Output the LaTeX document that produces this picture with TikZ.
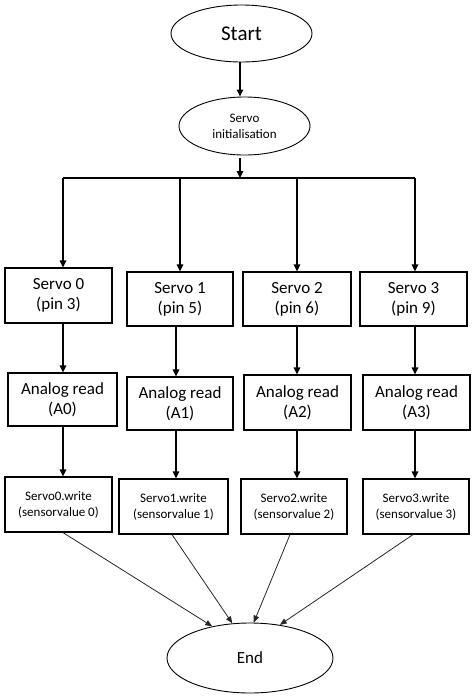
\documentclass[tikz,border=0pt]{standalone}
\usepackage{fontspec}
\setmainfont{Carlito}
\usetikzlibrary{shapes.geometric,arrows.meta,calc}
\begin{document}
\begin{tikzpicture}[x=1pt,y=-1pt,
  box/.style={draw=black,line width=1.2pt,rectangle,inner sep=0pt,align=center,text=black},
  oval/.style={draw=black,line width=0.9pt,ellipse,inner sep=0pt,align=center,text=black},
  arr/.style={draw=black,line width=1.2pt,-{Triangle[length=7pt,width=6.5pt]}},
  thinarr/.style={draw=black!85,line width=0.8pt,-{Triangle[length=7pt,width=5.5pt]}},
  big/.style={font=\fontsize{17}{20}\selectfont},
  small/.style={font=\fontsize{13}{16}\selectfont}]
\useasboundingbox (0,0) rectangle (474,697);
% ellipses
\node[oval,minimum width=141pt,minimum height=57pt,font=\fontsize{21}{24}\selectfont] (start) at (241.5,33.5) {Start};
\node[oval,minimum width=131pt,minimum height=58pt,font=\fontsize{13}{16}\selectfont] (init) at (244.5,126) {Servo\\initialisation};
\node[oval,minimum width=166pt,minimum height=70pt,big] (end) at (250,658) {End};
% servo boxes
\node[box,big,minimum width=107pt,minimum height=55pt] (s0) at (58.5,295.5) {Servo 0\\(pin 3)};
\node[box,big,minimum width=106pt,minimum height=54pt] (s1) at (180,299) {Servo 1\\(pin 5)};
\node[box,big,minimum width=108pt,minimum height=54pt] (s2) at (297,299) {Servo 2\\(pin 6)};
\node[box,big,minimum width=107pt,minimum height=54pt] (s3) at (413.5,299) {Servo 3\\(pin 9)};
% analog read boxes
\node[box,big,minimum width=109pt,minimum height=53pt] (a0) at (62.5,399.5) {Analog read\\(A0)};
\node[box,big,minimum width=106pt,minimum height=53pt] (a1) at (180,403.5) {Analog read\\(A1)};
\node[box,big,minimum width=107pt,minimum height=55pt] (a2) at (297.5,402.5) {Analog read\\(A2)};
\node[box,big,minimum width=107pt,minimum height=55pt] (a3) at (416.5,402.5) {Analog read\\(A3)};
% write boxes
\node[box,small,minimum width=107pt,minimum height=55pt] (w0) at (58.5,504.5) {Servo0.write\\(sensorvalue 0)};
\node[box,small,minimum width=109pt,minimum height=55pt] (w1) at (173.5,506.5) {Servo1.write\\(sensorvalue 1)};
\node[box,small,minimum width=106pt,minimum height=55pt] (w2) at (294,506.5) {Servo2.write\\(sensorvalue 2)};
\node[box,small,minimum width=106pt,minimum height=55pt] (w3) at (416,506.5) {Servo3.write\\(sensorvalue 3)};
% bus coordinates
\coordinate (bm) at (240,178);
\coordinate (b0) at (63,178);
\coordinate (b1) at (180,178);
\coordinate (b2) at (297,178);
\coordinate (b3) at (415,178);
\coordinate (x0) at (63,0);
\coordinate (x1) at (176,0);
\coordinate (x2) at (297,0);
\coordinate (x3) at (415,0);
\coordinate (e0) at (63,0);
\coordinate (e1) at (172,0);
\coordinate (e2) at (290,0);
\coordinate (e3) at (413,0);
% top connectors
\draw[arr] (start.south -| bm) -- (init.north -| bm);
\draw[arr] ([yshift=-3pt]init.south -| bm) -- (bm);
\draw[line width=1.2pt] (b0) -- (b3);
\draw[arr] (b0) -- (s0.north -| b0);
\draw[arr] (b1) -- (s1.north -| b1);
\draw[arr] (b2) -- (s2.north -| b2);
\draw[arr] (b3) -- (s3.north -| b3);
% servo -> analog
\draw[arr] (s0.south -| x0) -- (a0.north -| x0);
\draw[arr] (s1.south -| x1) -- (a1.north -| x1);
\draw[arr] (s2.south -| x2) -- (a2.north -| x2);
\draw[arr] (s3.south -| x3) -- (a3.north -| x3);
% analog -> write
\draw[arr] (a0.south -| x0) -- (w0.north -| x0);
\draw[arr] (a1.south -| x1) -- (w1.north -| x1);
\draw[arr] (a2.south -| x2) -- (w2.north -| x2);
\draw[arr] (a3.south -| x3) -- (w3.north -| x3);
% write -> end
\draw[thinarr] (w0.south -| e0) -- (end.140);
\draw[thinarr] (w1.south -| e1) -- (end.117);
\draw[thinarr] (w2.south -| e2) -- (end.84);
\draw[thinarr] (w3.south -| e3) -- (end.48);
\end{tikzpicture}
\end{document}
